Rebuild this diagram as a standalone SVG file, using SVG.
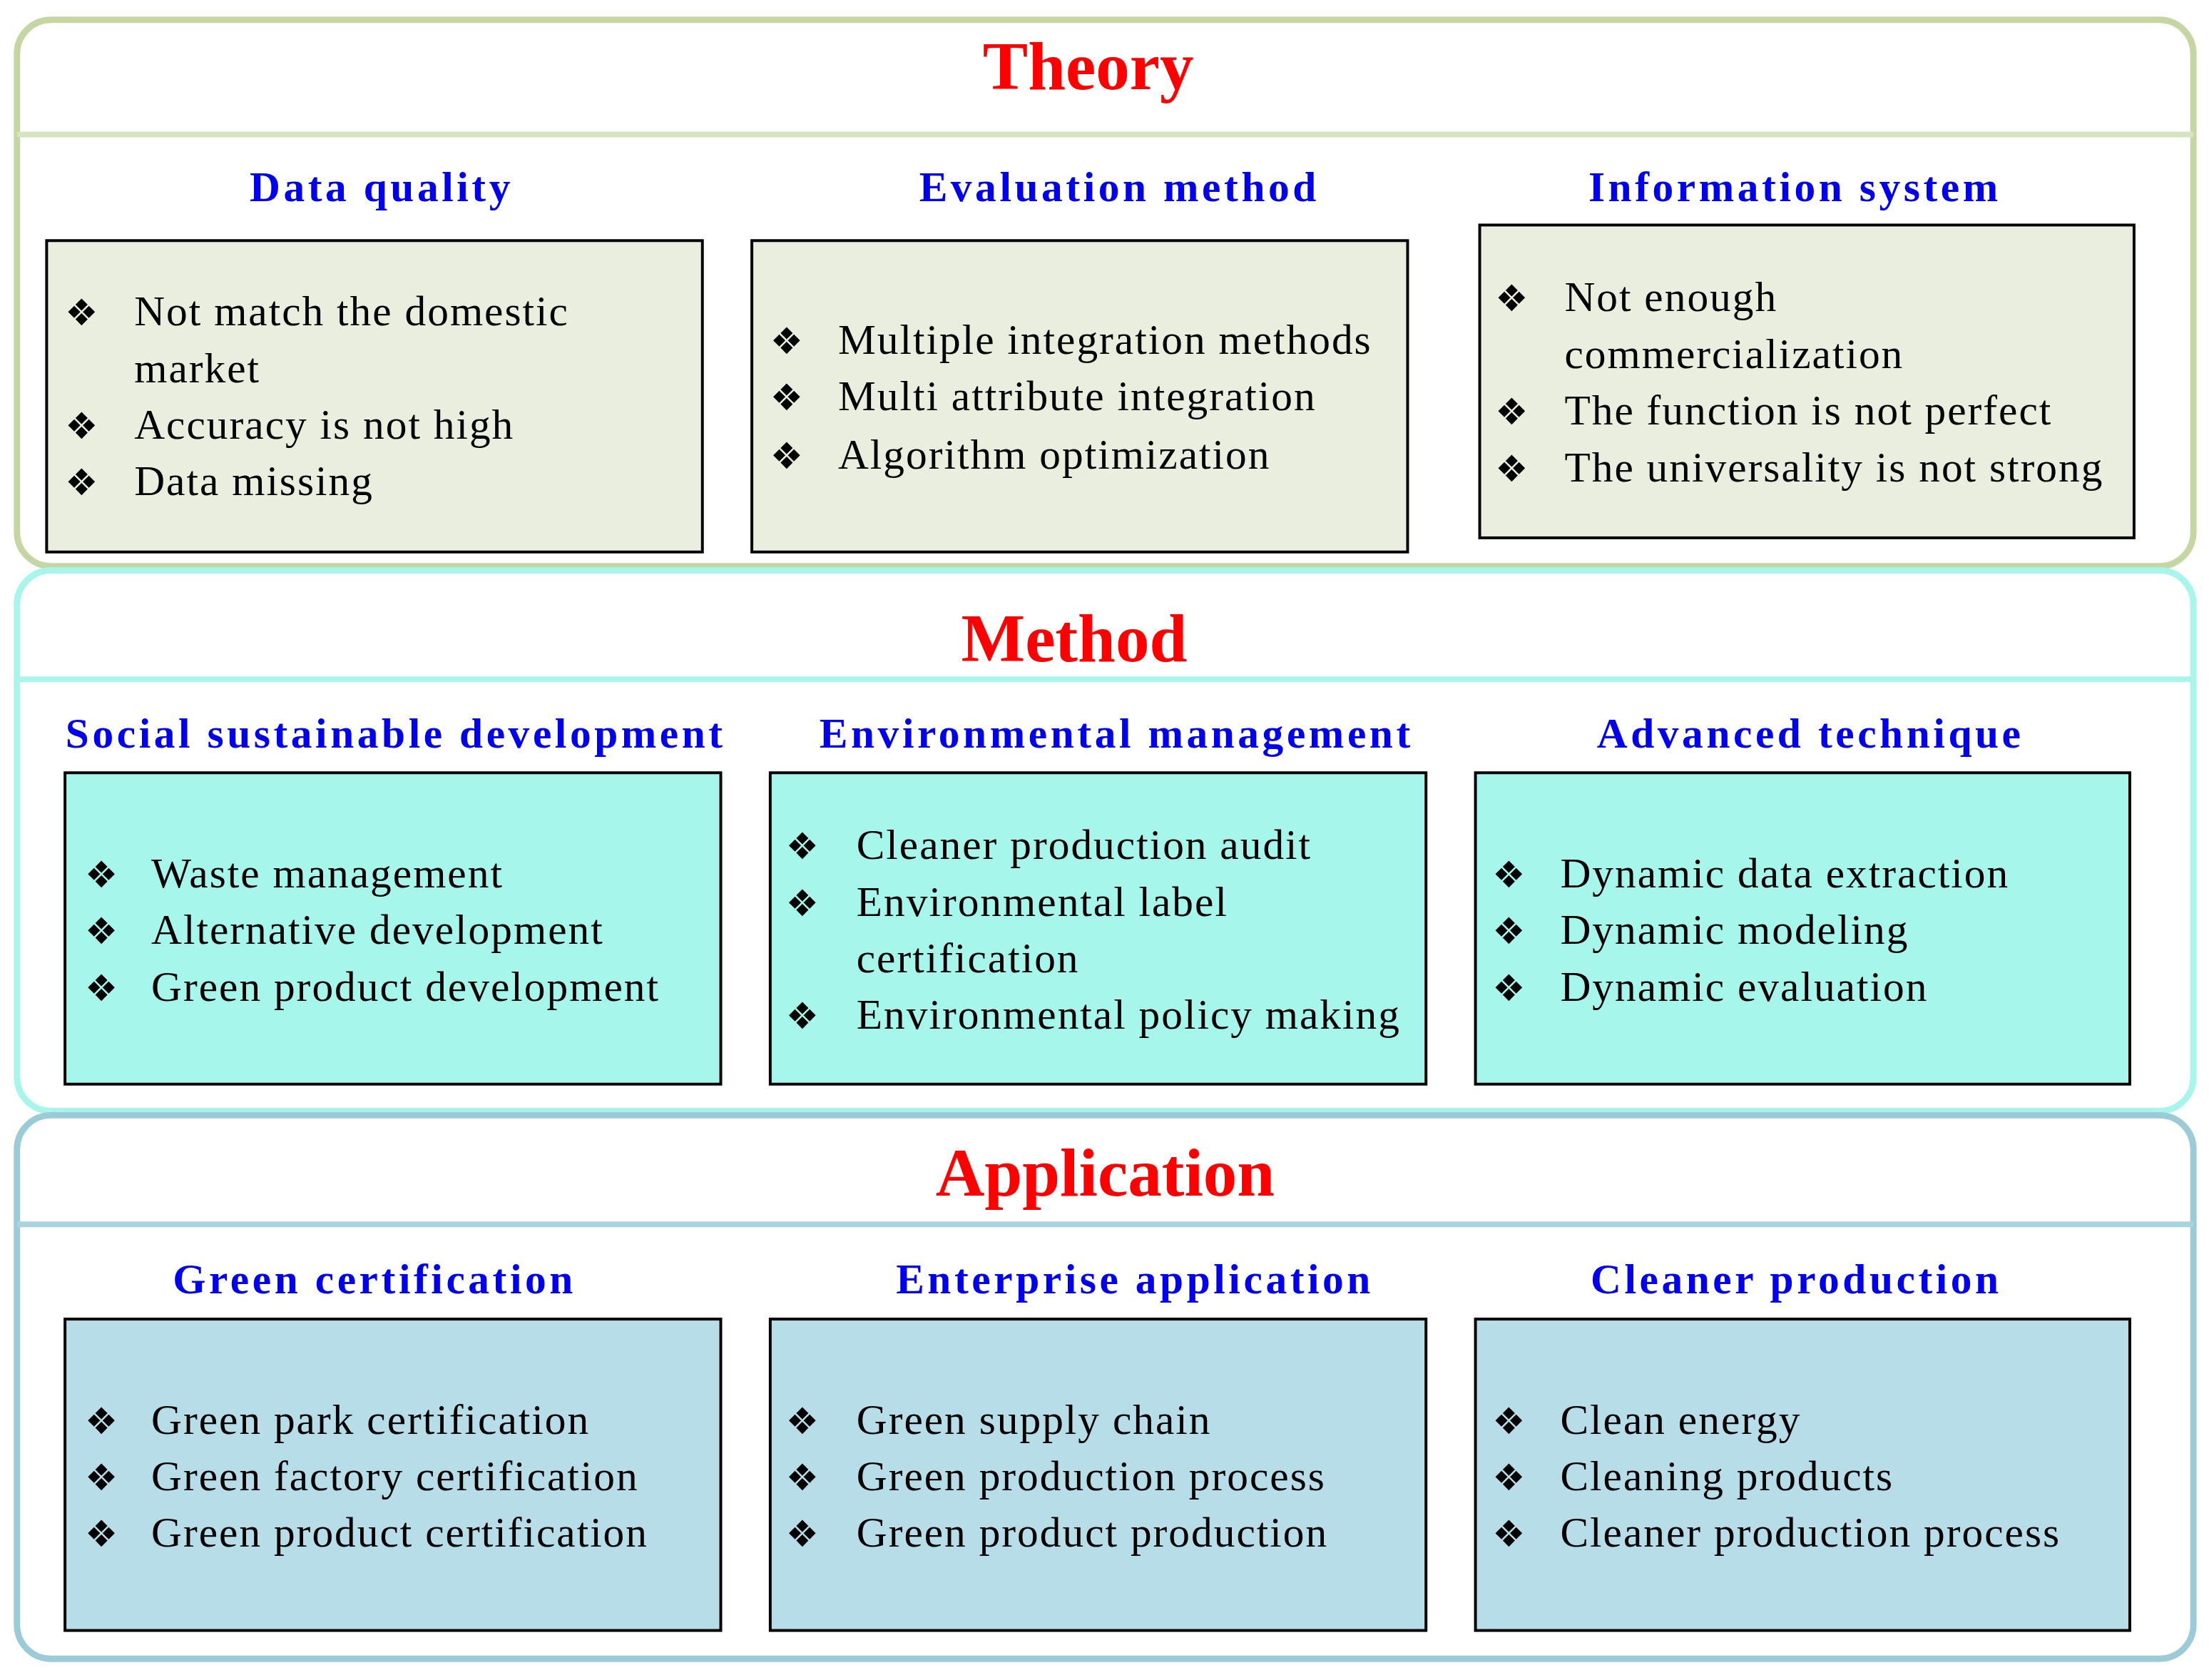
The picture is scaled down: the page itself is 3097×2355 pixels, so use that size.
<svg xmlns="http://www.w3.org/2000/svg" width="3097" height="2355" viewBox="0 0 3097 2355">
<style>
.t{font-family:"Liberation Serif",serif;font-weight:bold;fill:#ff0000;font-size:48px;text-anchor:middle}
.s{font-family:"Liberation Serif",serif;font-weight:bold;fill:#0000ee;font-size:30px;text-anchor:middle;letter-spacing:2.3px}
.i{font-family:"Liberation Serif",serif;font-size:30px;fill:#000;letter-spacing:1px}
.b{font-family:"DejaVu Sans",sans-serif;font-size:26px;fill:#000}
.bx{stroke:#000;stroke-width:2}
</style>
<rect width="3097" height="2355" fill="#fff"/>
<g transform="scale(1.9814,1.984)">
<g id="theory">
<rect x="12" y="14" width="1540" height="386" rx="24" fill="none" stroke="#c5d6a2" stroke-width="4.5"/>
<line x1="12" y1="95" x2="1552" y2="95" stroke="#d8e4c0" stroke-width="4"/>
<text class="t" x="770" y="63">Theory</text>
</g>
<g id="data-quality">
<text class="s" x="270" y="142">Data quality</text>
<rect class="bx" x="33" y="170" width="464" height="220" fill="#e9eedf"/>
<text class="b" x="46" y="230">❖</text><text class="i" x="95" y="230"> Not match the domestic</text>
<text class="i" x="95" y="270">market</text>
<text class="b" x="46" y="310">❖</text><text class="i" x="95" y="310">Accuracy is not high</text>
<text class="b" x="46" y="350">❖</text><text class="i" x="95" y="350">Data missing</text>
</g>
<g id="evaluation-method">
<text class="s" x="792" y="142">Evaluation method</text>
<rect class="bx" x="532" y="170" width="464" height="220" fill="#e9eedf"/>
<text class="b" x="545" y="250">❖</text><text class="i" x="593" y="250">Multiple integration methods</text>
<text class="b" x="545" y="290">❖</text><text class="i" x="593" y="290">Multi attribute integration</text>
<text class="b" x="545" y="331">❖</text><text class="i" x="593" y="331">Algorithm optimization</text>
</g>
<g id="information-system">
<text class="s" x="1270" y="142">Information system</text>
<rect class="bx" x="1047" y="159" width="463" height="221" fill="#e9eedf"/>
<text class="b" x="1058" y="220">❖</text><text class="i" x="1107" y="220">Not enough</text>
<text class="i" x="1107" y="260">commercialization</text>
<text class="b" x="1058" y="300">❖</text><text class="i" x="1107" y="300">The function is not perfect</text>
<text class="b" x="1058" y="340">❖</text><text class="i" x="1107" y="340">The universality is not strong</text>
</g>
<g id="method">
<rect x="12" y="403" width="1540" height="382" rx="24" fill="none" stroke="#a8f5ec" stroke-width="4.5"/>
<line x1="12" y1="480" x2="1552" y2="480" stroke="#a8f5ec" stroke-width="4"/>
<text class="t" x="760" y="467">Method</text>
</g>
<g id="social">
<text class="s" x="280" y="528">Social sustainable development</text>
<rect class="bx" x="46" y="546" width="464" height="220" fill="#a6f6ec"/>
<text class="b" x="60" y="627">❖</text><text class="i" x="107" y="627">Waste management</text>
<text class="b" x="60" y="667">❖</text><text class="i" x="107" y="667">Alternative development</text>
<text class="b" x="60" y="707">❖</text><text class="i" x="107" y="707">Green product development</text>
</g>
<g id="environmental">
<text class="s" x="790" y="528">Environmental management</text>
<rect class="bx" x="545" y="546" width="464" height="220" fill="#a6f6ec"/>
<text class="b" x="556" y="607">❖</text><text class="i" x="606" y="607">Cleaner production audit</text>
<text class="b" x="556" y="647">❖</text><text class="i" x="606" y="647">Environmental label</text>
<text class="i" x="606" y="687">certification</text>
<text class="b" x="556" y="727">❖</text><text class="i" x="606" y="727">Environmental policy making</text>
</g>
<g id="advanced">
<text class="s" x="1281" y="528">Advanced technique</text>
<rect class="bx" x="1044" y="546" width="463" height="220" fill="#a6f6ec"/>
<text class="b" x="1056" y="627">❖</text><text class="i" x="1104" y="627">Dynamic data extraction</text>
<text class="b" x="1056" y="667">❖</text><text class="i" x="1104" y="667">Dynamic modeling</text>
<text class="b" x="1056" y="707">❖</text><text class="i" x="1104" y="707">Dynamic evaluation</text>
</g>
<g id="application">
<rect x="12" y="788" width="1540" height="384" rx="24" fill="none" stroke="#9ccbd8" stroke-width="4.5"/>
<line x1="12" y1="865" x2="1552" y2="865" stroke="#a9d4df" stroke-width="4"/>
<text class="t" x="782" y="845">Application</text>
</g>
<g id="green-certification">
<text class="s" x="265" y="914">Green certification</text>
<rect class="bx" x="46" y="932" width="464" height="220" fill="#b6dde8"/>
<text class="b" x="60" y="1013">❖</text><text class="i" x="107" y="1013">Green park certification</text>
<text class="b" x="60" y="1053">❖</text><text class="i" x="107" y="1053">Green factory certification</text>
<text class="b" x="60" y="1093">❖</text><text class="i" x="107" y="1093">Green product certification</text>
</g>
<g id="enterprise">
<text class="s" x="803" y="914">Enterprise application</text>
<rect class="bx" x="545" y="932" width="464" height="220" fill="#b6dde8"/>
<text class="b" x="556" y="1013">❖</text><text class="i" x="606" y="1013">Green supply chain</text>
<text class="b" x="556" y="1053">❖</text><text class="i" x="606" y="1053">Green production process</text>
<text class="b" x="556" y="1093">❖</text><text class="i" x="606" y="1093">Green product production</text>
</g>
<g id="cleaner">
<text class="s" x="1271" y="914">Cleaner production</text>
<rect class="bx" x="1044" y="932" width="463" height="220" fill="#b6dde8"/>
<text class="b" x="1056" y="1013">❖</text><text class="i" x="1104" y="1013">Clean energy</text>
<text class="b" x="1056" y="1053">❖</text><text class="i" x="1104" y="1053">Cleaning products</text>
<text class="b" x="1056" y="1093">❖</text><text class="i" x="1104" y="1093">Cleaner production process</text>
</g>
<g id="connectors"></g>
</g>
</svg>
